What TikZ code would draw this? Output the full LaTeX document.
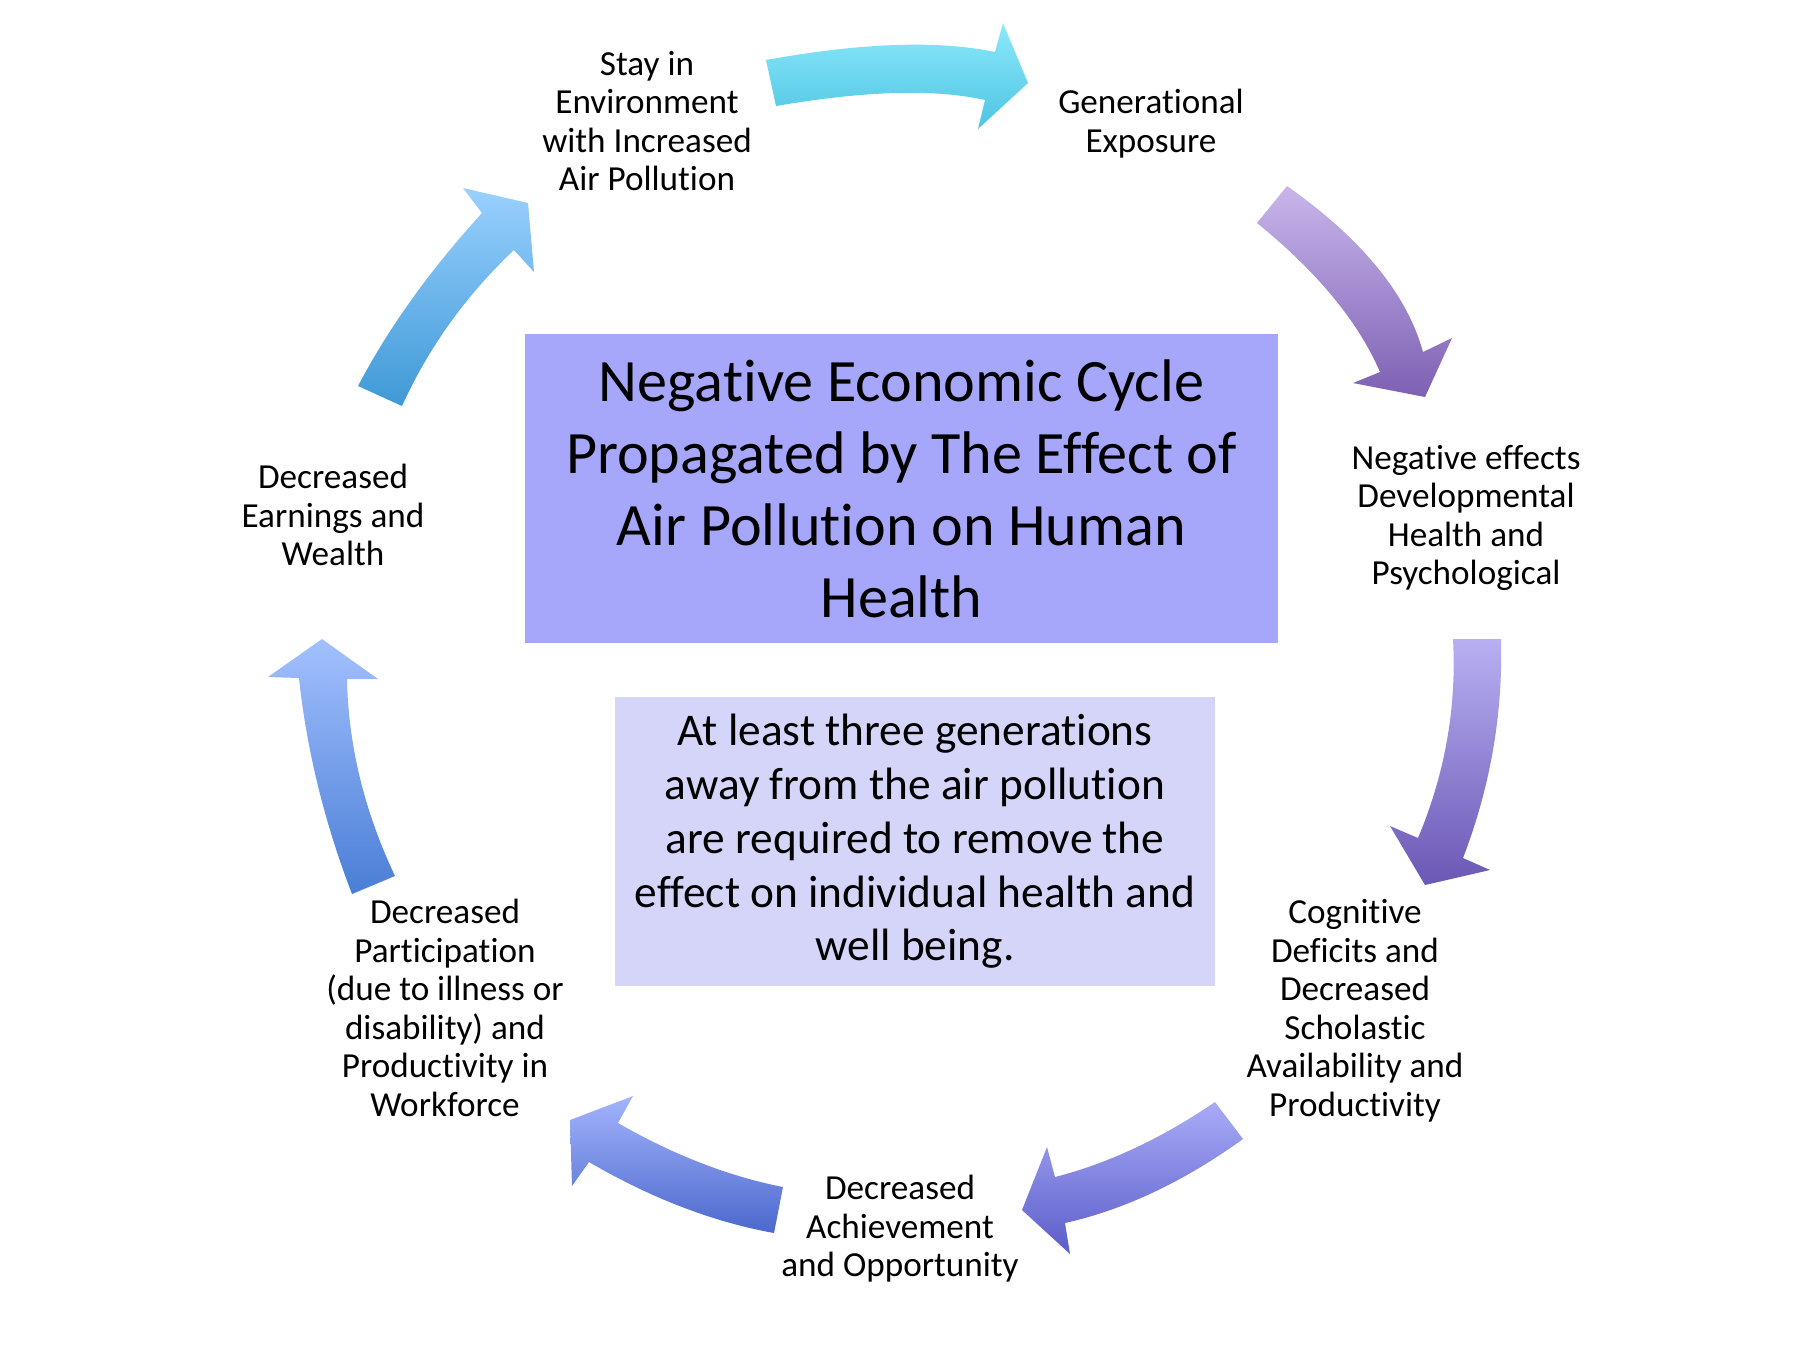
\documentclass[tikz,border=0pt]{standalone}
\usepackage{fontspec}
\setmainfont{Carlito}[Ligatures=NoCommon]
\usepackage{tikz}
\definecolor{titlefill}{HTML}{A6A6FA}
\definecolor{notefill}{HTML}{D5D5FA}
\definecolor{cyanA}{HTML}{8CE9FB}\definecolor{cyanB}{HTML}{4EC4E3}
\definecolor{lilacA}{HTML}{C9B5EB}\definecolor{lilacB}{HTML}{7D60B3}
\definecolor{violetA}{HTML}{B8B0F2}\definecolor{violetB}{HTML}{6B57B5}
\definecolor{indigoA}{HTML}{A9ABF7}\definecolor{indigoB}{HTML}{5B5DC9}
\definecolor{blueA}{HTML}{A3B4FC}\definecolor{blueB}{HTML}{4B68CC}
\definecolor{skyA}{HTML}{A2C0FE}\definecolor{skyB}{HTML}{4A7ED6}
\definecolor{azureA}{HTML}{9AD0FF}\definecolor{azureB}{HTML}{3E99D6}

\begin{document}
\begin{tikzpicture}[x=0.01cm,y=-0.01cm,
  lbl/.style={align=center,font=\fontsize{10}{10.95}\selectfont},
  bigbox/.style={fill=titlefill,align=center,inner sep=0pt,
    font=\fontsize{17.1}{20.5}\selectfont},
  notebox/.style={fill=notefill,align=center,inner sep=0pt,
    font=\fontsize{12.9}{15.3}\selectfont}]
 \useasboundingbox (0,0) rectangle (1800,1350);
 % centre boxes
 \node[bigbox,minimum width=7.53cm,minimum height=3.09cm] (title) at (901.5,488.5)
  {Negative Economic Cycle\\Propagated by The Effect of\\Air Pollution on Human\\Health};
 \node[notebox,minimum width=6cm,minimum height=2.89cm] (note) at (915,841.5)
  {At least three generations\\away from the air pollution\\are required to remove the\\effect on individual health and\\well being.};
 % stages of the cycle
 \node[lbl] (stay) at (647,121) {Stay in\\Environment\\with Increased\\Air Pollution};
 \node[lbl] (gen) at (1151,123.5) {Generational\\Exposure};
 \node[lbl] (negeff) at (1466,518) {Negative effects\\Developmental\\Health and\\Psychological};
 \node[lbl] (cogn) at (1355,1010.5) {Cognitive\\Deficits and\\Decreased\\Scholastic\\Availability and\\Productivity};
 \node[lbl] (achieve) at (900,1229) {Decreased\\Achievement\\and Opportunity};
 \node[lbl] (particip) at (445,1008) {Decreased\\Participation\\(due to illness or\\disability) and\\Productivity in\\Workforce};
 \node[lbl] (earn) at (333,515) {Decreased\\Earnings and\\Wealth};
 % curved block arrows
 \shade[top color=cyanA,bottom color=cyanB]
  (766,60) .. controls (861.7,42.7) and (938,40) .. (995,52) -- (1003,23) -- (1028,83)
  -- (978,129) -- (985,100) .. controls (934.7,88.7) and (865,90.7) .. (776,106) -- cycle;
 \shade[top color=lilacA,bottom color=lilacB]
  (1287,186) .. controls (1361.7,238.7) and (1407,294) .. (1423,352) -- (1452,338) -- (1425,397)
  -- (1353,383) -- (1380,372) .. controls (1358.3,321.7) and (1317.3,272) .. (1257,223) -- cycle;
 \shade[top color=violetA,bottom color=violetB]
  (1453,639) .. controls (1456.7,707.3) and (1445,773.7) .. (1418,838) -- (1390,826) -- (1425,885)
  -- (1490,870) -- (1463,858) .. controls (1490.3,787) and (1503,714) .. (1501,639) -- cycle;
 \shade[top color=indigoA,bottom color=indigoB]
  (1215,1102) .. controls (1161.7,1138.3) and (1108.3,1163.3) .. (1055,1177) -- (1047,1147) -- (1022,1210)
  -- (1070,1254) -- (1065,1223) .. controls (1124.3,1209.7) and (1183.7,1181.7) .. (1243,1139) -- cycle;
 \shade[top color=blueA,bottom color=blueB]
  (783,1187) .. controls (728.7,1176.3) and (673.7,1155) .. (618,1123) -- (633,1096) -- (570,1120)
  -- (572,1186) -- (589,1162) .. controls (651.3,1198.3) and (713,1222) .. (774,1233) -- cycle;
 \shade[top color=skyA,bottom color=skyB]
  (352,894) .. controls (324.3,822) and (306.7,750) .. (299,678) -- (268,677) -- (322,639)
  -- (378,679) -- (347,679) .. controls (348.3,745.3) and (364.3,811) .. (395,876) -- cycle;
 \shade[top color=azureA,bottom color=azureB]
  (358,386) .. controls (388.7,327.7) and (430,270) .. (482,213) -- (463,188) -- (528,203)
  -- (534,272) -- (514,250) .. controls (466,295.3) and (428.7,347.3) .. (402,406) -- cycle;
\end{tikzpicture}
\end{document}
